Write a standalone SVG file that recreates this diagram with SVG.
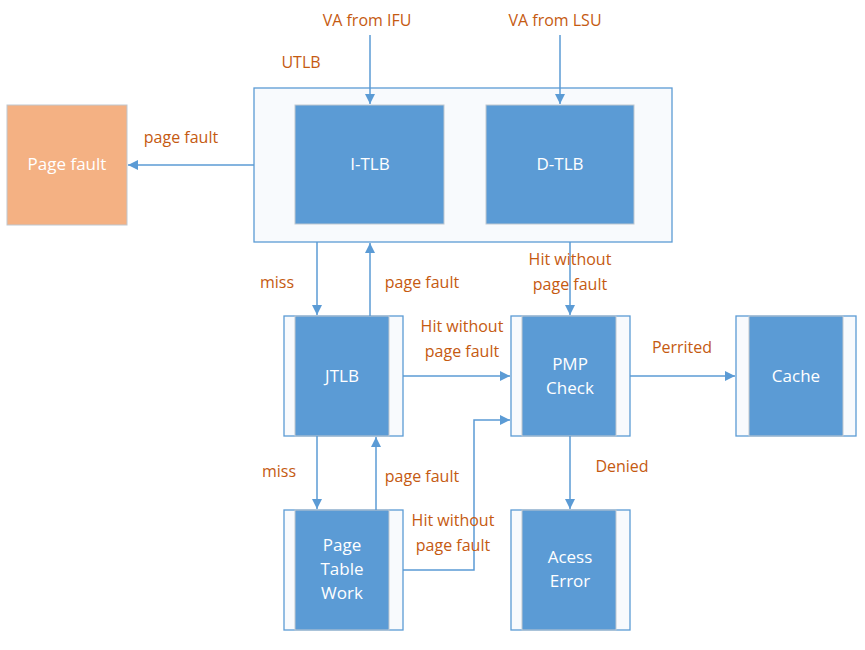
<svg xmlns="http://www.w3.org/2000/svg" width="865" height="650" viewBox="0 0 865 650">
<defs>
<marker id="a" viewBox="0 0 10 10" refX="10" refY="5" markerWidth="10" markerHeight="10" markerUnits="userSpaceOnUse" orient="auto"><path d="M0,0L10,5L0,10z" fill="#5B9BD5"/></marker>
</defs>
<style>
.o{fill:#F8FAFD;stroke:#5B9BD5;stroke-width:1.3}
.i{fill:#5B9BD5;stroke:#BFC7D0;stroke-width:1}
.t{font-family:"Open Sans",sans-serif;font-size:17px;fill:#fff;text-anchor:middle}
.l{font-family:"Open Sans",sans-serif;font-size:16px;fill:#C55A11;text-anchor:middle}
.c{fill:none;stroke:#5B9BD5;stroke-width:1.5;marker-end:url(#a)}
</style>
<rect width="865" height="650" fill="#fff"/>
<g id="utlb"><rect class="o" x="254" y="88" width="418" height="154"/><text class="l" x="301" y="68">UTLB</text></g>
<g id="itlb"><rect class="i" x="295" y="105" width="149" height="119"/><text class="t" x="370" y="170">I-TLB</text></g>
<g id="dtlb"><rect class="i" x="486" y="105" width="148" height="119"/><text class="t" x="560" y="170">D-TLB</text></g>
<g id="pagefault"><rect x="7" y="105" width="120" height="120" fill="#F4B183" stroke="#BFC7D0"/><text class="t" x="67" y="170">Page fault</text></g>
<g id="jtlb"><rect class="o" x="284" y="316" width="119" height="120"/><rect class="i" x="295" y="316" width="94" height="120"/><text class="t" x="342" y="382">JTLB</text></g>
<g id="pmp"><rect class="o" x="511" y="316" width="119" height="120"/><rect class="i" x="522" y="316" width="94" height="120"/><text class="t" x="570" y="370">PMP</text><text class="t" x="570" y="394">Check</text></g>
<g id="cache"><rect class="o" x="736" y="316" width="120" height="120"/><rect class="i" x="749" y="316" width="94" height="120"/><text class="t" x="796" y="382">Cache</text></g>
<g id="ptw"><rect class="o" x="284" y="510" width="119" height="120"/><rect class="i" x="295" y="510" width="94" height="120"/><text class="t" x="342" y="551">Page</text><text class="t" x="342" y="575">Table</text><text class="t" x="342" y="599">Work</text></g>
<g id="acess"><rect class="o" x="511" y="510" width="119" height="120"/><rect class="i" x="522" y="510" width="94" height="120"/><text class="t" x="570" y="563">Acess</text><text class="t" x="570" y="587">Error</text></g>
<g id="connectors">
<path class="c" d="M370,35V104"/>
<path class="c" d="M560,35V104"/>
<path class="c" d="M254,165H128"/>
<path class="c" d="M317,242V315"/>
<path class="c" d="M370,316V243"/>
<path class="c" d="M570,242V315"/>
<path class="c" d="M403,376H510"/>
<path class="c" d="M630,376H735"/>
<path class="c" d="M570,436V509"/>
<path class="c" d="M317,436V509"/>
<path class="c" d="M376,510V437"/>
<path class="c" d="M403,570H474V420H510"/>
</g>
<g id="labels">
<text class="l" x="367" y="26">VA from IFU</text>
<text class="l" x="555" y="26">VA from LSU</text>
<text class="l" x="181" y="143">page fault</text>
<text class="l" x="277" y="288">miss</text>
<text class="l" x="422" y="288">page fault</text>
<text class="l" x="570" y="265">Hit without</text>
<text class="l" x="570" y="290">page fault</text>
<text class="l" x="462" y="332">Hit without</text>
<text class="l" x="462" y="357">page fault</text>
<text class="l" x="682" y="353">Perrited</text>
<text class="l" x="622" y="472">Denied</text>
<text class="l" x="279" y="477">miss</text>
<text class="l" x="422" y="482">page fault</text>
<text class="l" x="453" y="526">Hit without</text>
<text class="l" x="453" y="551">page fault</text>
</g>
</svg>
